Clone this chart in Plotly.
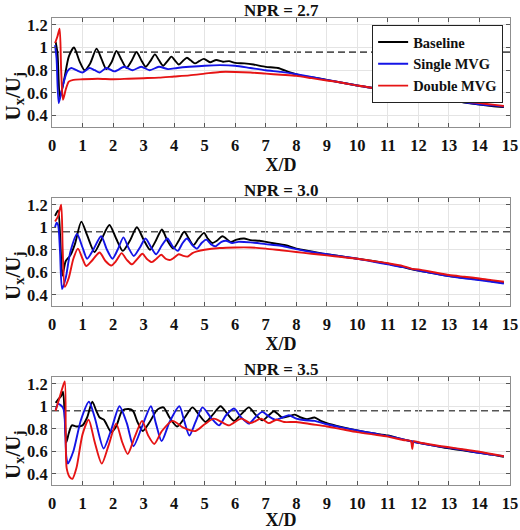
import plotly.graph_objects as go

# ---------------- data ----------------
series_names = ["Baseline", "Single MVG", "Double MVG"]
panel_titles = ["NPR = 2.7", "NPR = 3.0", "NPR = 3.5"]
ref_level = 0.96
x_ticks = list(range(0, 16))
y_ticks = [0.4, 0.6, 0.8, 1.0, 1.2]
y_tick_labels = ["0.4", "0.6", "0.8", "1", "1.2"]

# NPR = 2.7
npr27_base_x = [0.12, 0.18, 0.26, 0.4, 0.55, 0.72, 0.9, 1.07, 1.25, 1.46, 1.62, 1.78, 1.95, 2.11, 2.28, 2.44, 2.6, 2.77, 2.92, 3.07, 3.22, 3.37, 3.5, 3.64, 3.78, 3.91, 4.03, 4.15, 4.28, 4.42, 4.55, 4.68, 4.82, 4.97, 5.08, 5.18, 5.38, 5.6, 5.8, 6.0, 6.3, 6.6, 7.0, 7.4, 7.8, 8.2, 8.6, 9.0, 9.5, 10.0, 10.5, 11.0, 11.5, 11.8, 12.0, 12.5, 13.0, 13.5, 14.0, 14.4, 14.8]
npr27_base_y = [1.05, 0.95, 0.56, 0.72, 0.92, 1.0, 0.88, 0.80, 0.86, 0.99, 0.9, 0.81, 0.87, 0.97, 0.89, 0.82, 0.88, 0.96, 0.89, 0.83, 0.88, 0.94, 0.89, 0.84, 0.88, 0.92, 0.885, 0.85, 0.88, 0.91, 0.885, 0.86, 0.88, 0.90, 0.885, 0.87, 0.89, 0.875, 0.88, 0.865, 0.86, 0.85, 0.83, 0.82, 0.78, 0.75, 0.735, 0.715, 0.69, 0.665, 0.645, 0.62, 0.595, 0.575, 0.57, 0.55, 0.535, 0.515, 0.497, 0.485, 0.476]
npr27_single_x = [0.1, 0.15, 0.22, 0.35, 0.5, 0.63, 0.8, 1.0, 1.23, 1.4, 1.56, 1.78, 2.05, 2.37, 2.64, 2.92, 3.2, 3.5, 3.8, 4.1, 4.5, 5.0, 5.5, 6.0, 6.5, 7.0, 7.5, 8.0, 8.5, 9.0, 9.5, 10.0, 10.5, 11.0, 11.5, 12.0, 12.5, 13.0, 13.5, 14.0, 14.5, 14.8]
npr27_single_y = [1.02, 0.9, 0.51, 0.66, 0.79, 0.82, 0.8, 0.78, 0.82, 0.80, 0.78, 0.82, 0.79, 0.83, 0.80, 0.83, 0.80, 0.83, 0.81, 0.82, 0.83, 0.84, 0.845, 0.84, 0.82, 0.80, 0.785, 0.765, 0.74, 0.715, 0.69, 0.665, 0.645, 0.62, 0.6, 0.575, 0.555, 0.535, 0.518, 0.5, 0.488, 0.48]
npr27_double_x = [0.1, 0.18, 0.25, 0.3, 0.36, 0.45, 0.55, 0.7, 1.0, 1.5, 2.0, 2.5, 3.0, 3.5, 4.0, 4.5, 5.0, 5.5, 6.0, 6.5, 7.0, 7.5, 8.0, 8.5, 9.0, 9.5, 10.0, 10.5, 11.0, 11.5, 12.0, 12.5, 13.0, 13.5, 14.0, 14.5, 14.8]
npr27_double_y = [1.04, 1.1, 1.165, 0.8, 0.54, 0.63, 0.70, 0.715, 0.72, 0.725, 0.72, 0.725, 0.73, 0.735, 0.745, 0.755, 0.77, 0.785, 0.785, 0.78, 0.77, 0.76, 0.75, 0.73, 0.71, 0.69, 0.665, 0.645, 0.625, 0.6, 0.58, 0.56, 0.545, 0.525, 0.51, 0.495, 0.485]

# NPR = 3.0
npr30_base_x = [0.1, 0.2, 0.27, 0.34, 0.45, 0.6, 0.75, 0.96, 1.15, 1.39, 1.6, 1.88, 2.1, 2.32, 2.55, 2.78, 3.0, 3.21, 3.4, 3.6, 3.78, 3.97, 4.15, 4.33, 4.48, 4.63, 4.8, 4.98, 5.1, 5.25, 5.4, 5.58, 5.7, 5.85, 6.05, 6.29, 6.5, 6.8, 7.2, 7.65, 8.0, 8.5, 9.0, 9.5, 10.0, 10.5, 11.0, 11.5, 12.0, 12.5, 13.0, 13.5, 14.0, 14.4, 14.8]
npr30_base_y = [1.1, 1.15, 0.9, 0.57, 0.70, 0.75, 0.85, 1.05, 0.93, 0.78, 0.88, 1.02, 0.9, 0.79, 0.88, 1.0, 0.89, 0.80, 0.88, 0.98, 0.88, 0.81, 0.88, 0.96, 0.9, 0.84, 0.9, 0.95, 0.9, 0.86, 0.88, 0.92, 0.9, 0.87, 0.89, 0.90, 0.885, 0.88, 0.86, 0.84, 0.81, 0.785, 0.76, 0.74, 0.72, 0.70, 0.675, 0.645, 0.615, 0.59, 0.565, 0.55, 0.535, 0.52, 0.505]
npr30_single_x = [0.1, 0.15, 0.2, 0.26, 0.33, 0.45, 0.6, 0.82, 1.0, 1.15, 1.35, 1.61, 1.8, 1.98, 2.15, 2.34, 2.5, 2.68, 2.88, 3.06, 3.25, 3.41, 3.6, 3.78, 3.95, 4.12, 4.28, 4.42, 4.6, 4.75, 4.9, 5.05, 5.2, 5.35, 5.55, 5.7, 5.9, 6.1, 6.5, 7.0, 7.5, 8.0, 8.5, 9.0, 9.5, 10.0, 10.5, 11.0, 11.5, 12.0, 12.5, 13.0, 13.5, 14.0, 14.4, 14.8]
npr30_single_y = [1.0, 1.04, 1.02, 0.8, 0.45, 0.55, 0.78, 0.94, 0.82, 0.72, 0.8, 0.92, 0.8, 0.72, 0.8, 0.91, 0.82, 0.745, 0.82, 0.9, 0.82, 0.76, 0.84, 0.9, 0.83, 0.79, 0.86, 0.90, 0.84, 0.81, 0.86, 0.89, 0.85, 0.83, 0.87, 0.88, 0.86, 0.87, 0.865, 0.85, 0.835, 0.805, 0.78, 0.76, 0.74, 0.72, 0.695, 0.67, 0.645, 0.615, 0.59, 0.565, 0.545, 0.53, 0.515, 0.5]
npr30_double_x = [0.1, 0.2, 0.3, 0.35, 0.42, 0.55, 0.7, 0.85, 1.0, 1.12, 1.3, 1.56, 1.75, 1.94, 2.1, 2.28, 2.45, 2.62, 2.8, 2.96, 3.1, 3.27, 3.42, 3.58, 3.72, 3.88, 4.0, 4.15, 4.3, 4.45, 4.6, 4.75, 5.0, 5.5, 6.0, 6.5, 7.0, 7.5, 8.0, 8.5, 9.0, 9.5, 10.0, 10.5, 11.0, 11.5, 11.8, 12.0, 12.5, 13.0, 13.5, 14.0, 14.4, 14.8]
npr30_double_y = [1.05, 1.1, 1.2, 0.8, 0.47, 0.55, 0.72, 0.81, 0.72, 0.655, 0.7, 0.775, 0.7, 0.66, 0.7, 0.77, 0.71, 0.67, 0.72, 0.765, 0.72, 0.69, 0.72, 0.755, 0.72, 0.71, 0.73, 0.76, 0.745, 0.74, 0.77, 0.785, 0.80, 0.815, 0.82, 0.82, 0.81, 0.795, 0.78, 0.765, 0.75, 0.735, 0.72, 0.70, 0.68, 0.655, 0.63, 0.625, 0.6, 0.575, 0.56, 0.545, 0.53, 0.515]

# NPR = 3.5
npr35_base_x = [0.12, 0.2, 0.3, 0.36, 0.42, 0.47, 0.55, 0.65, 0.8, 1.0, 1.15, 1.32, 1.45, 1.56, 1.7, 1.94, 2.1, 2.3, 2.5, 2.65, 2.8, 2.97, 3.2, 3.45, 3.65, 3.85, 4.1, 4.35, 4.6, 4.8, 5.03, 5.28, 5.52, 5.75, 5.96, 6.2, 6.45, 6.65, 6.89, 7.1, 7.27, 7.4, 7.54, 7.75, 7.95, 8.15, 8.35, 8.6, 8.8, 9.0, 9.5, 10.0, 10.5, 11.0, 11.5, 12.0, 12.5, 13.0, 13.5, 14.0, 14.4, 14.8]
npr35_base_y = [1.03, 1.06, 1.09, 1.13, 0.9, 0.68, 0.76, 0.83, 0.82, 0.83, 0.9, 1.04, 0.96, 0.90, 0.88, 0.77, 0.82, 0.96, 0.975, 0.96, 0.86, 0.78, 0.86, 0.97, 0.99, 0.9, 0.82, 0.9, 0.99, 0.93, 0.86, 0.93, 1.0, 0.93, 0.87, 0.93, 0.99, 0.93, 0.875, 0.92, 0.955, 0.93, 0.90, 0.91, 0.925, 0.9, 0.885, 0.9, 0.87, 0.85, 0.815, 0.785, 0.76, 0.74, 0.705, 0.675, 0.65, 0.625, 0.605, 0.585, 0.57, 0.55]
npr35_single_x = [0.12, 0.2, 0.28, 0.35, 0.4, 0.47, 0.52, 0.7, 0.95, 1.21, 1.4, 1.69, 1.95, 2.21, 2.45, 2.67, 2.95, 3.24, 3.4, 3.59, 3.85, 4.17, 4.33, 4.5, 4.7, 4.93, 5.2, 5.47, 5.7, 5.96, 6.2, 6.45, 6.65, 6.89, 7.1, 7.32, 7.55, 7.76, 8.0, 8.3, 8.6, 9.0, 9.5, 10.0, 10.5, 11.0, 11.5, 12.0, 12.5, 13.0, 13.5, 14.0, 14.4, 14.8]
npr35_single_y = [0.97, 1.02, 1.01, 0.99, 0.95, 0.55, 0.49, 0.6, 0.88, 1.04, 0.9, 0.625, 0.8, 1.0, 0.85, 0.645, 0.82, 1.0, 0.85, 0.69, 0.86, 1.0, 0.87, 0.74, 0.86, 0.99, 0.9, 0.83, 0.92, 0.98, 0.9, 0.845, 0.9, 0.95, 0.91, 0.88, 0.9, 0.92, 0.89, 0.875, 0.87, 0.84, 0.81, 0.785, 0.76, 0.735, 0.705, 0.675, 0.65, 0.63, 0.61, 0.585, 0.57, 0.555]
npr35_double_x = [0.12, 0.25, 0.35, 0.42, 0.45, 0.48, 0.58, 0.67, 0.8, 1.0, 1.2, 1.4, 1.63, 1.85, 2.1, 2.3, 2.48, 2.7, 2.95, 3.15, 3.35, 3.6, 3.95, 4.3, 4.7, 5.0, 5.3, 5.55, 5.8, 6.2, 6.5, 6.85, 7.1, 7.35, 7.6, 8.0, 8.5, 9.0, 9.5, 10.0, 10.5, 11.0, 11.5, 11.75, 11.8, 11.85, 12.0, 12.5, 13.0, 13.5, 14.0, 14.4, 14.8]
npr35_double_y = [0.96, 1.08, 1.17, 1.22, 0.7, 0.45, 0.37, 0.355, 0.45, 0.75, 0.88, 0.68, 0.49, 0.65, 0.845, 0.68, 0.575, 0.72, 0.87, 0.74, 0.665, 0.78, 0.87, 0.81, 0.78, 0.84, 0.89, 0.86, 0.83, 0.89, 0.85, 0.89, 0.85, 0.88, 0.86, 0.86, 0.84, 0.82, 0.795, 0.77, 0.75, 0.73, 0.70, 0.69, 0.62, 0.69, 0.68, 0.655, 0.635, 0.615, 0.595, 0.575, 0.556]

panels = [
    [(npr27_base_x, npr27_base_y), (npr27_single_x, npr27_single_y), (npr27_double_x, npr27_double_y)],
    [(npr30_base_x, npr30_base_y), (npr30_single_x, npr30_single_y), (npr30_double_x, npr30_double_y)],
    [(npr35_base_x, npr35_base_y), (npr35_single_x, npr35_single_y), (npr35_double_x, npr35_double_y)],
]

# ---------------- styling ----------------
colors = ["#000000", "#1414e6", "#e61414"]
FONT = "Liberation Serif"
domains = [[0.7666, 1.0], [0.3833, 0.6146], [0.0, 0.2313]]

fig = go.Figure()
for p, series in enumerate(panels):
    ax = "" if p == 0 else str(p + 1)
    for s, (xs, ys) in enumerate(series):
        fig.add_trace(go.Scatter(
            x=xs, y=ys, mode="lines",
            line=dict(color=colors[s], width=1.9, shape="spline", smoothing=0.7),
            name=series_names[s], showlegend=(p == 0),
            xaxis="x" + ax, yaxis="y" + ax,
        ))
    # reference dashed level
    fig.add_shape(type="line", xref="x" + ax + " domain", yref="y" + ax,
                  x0=0, x1=1, y0=ref_level, y1=ref_level,
                  line=dict(color="#555555", width=1.7, dash="7px,4px"), layer="below")
    # panel title
    fig.add_annotation(text="<b>" + panel_titles[p] + "</b>", xref="paper", yref="paper",
                       x=0.5, y=domains[p][1], yshift=-4, yanchor="bottom", showarrow=False,
                       font=dict(family=FONT, size=17, color="#111"))
    # y-axis title
    fig.add_annotation(text="<b>U<sub>x</sub>/U<sub>j</sub></b>", textangle=-90,
                       xref="paper", yref="paper", x=0, xshift=-38,
                       y=(domains[p][0] + domains[p][1]) / 2, yshift=-24,
                       xanchor="center", yanchor="middle", showarrow=False,
                       font=dict(family=FONT, size=21, color="#111"))

axis_common = dict(
    showline=True, linecolor="#8f8f8f", linewidth=1, mirror="ticks",
    ticks="inside", ticklen=4, tickcolor="#555",
    showgrid=True, gridcolor="#e4e4e4", gridwidth=1, zeroline=False,
    automargin=False,
    tickfont=dict(family=FONT, size=16.5, color="#111", weight="bold"),
)
layout = dict(
    width=520, height=530,
    margin=dict(l=52, r=10, t=18, b=45),
    paper_bgcolor="white", plot_bgcolor="white",
    showlegend=True,
    legend=dict(x=0.985, y=0.985, xanchor="right", yanchor="top",
                bgcolor="white", bordercolor="#222", borderwidth=1,
                font=dict(family=FONT, size=14.5, color="#111", weight="bold"),
                itemwidth=30, tracegroupgap=0),
)
for p in range(3):
    k = "" if p == 0 else str(p + 1)
    layout["xaxis" + k] = dict(axis_common, domain=[0, 1], range=[0, 15], tickvals=x_ticks,
                               anchor="y" + k, ticklabelstandoff=3,
                               title=dict(text="<b>X/D</b>", standoff=0,
                                          font=dict(family=FONT, size=18, color="#111")))
    layout["yaxis" + k] = dict(axis_common, domain=domains[p], range=[0.3, 1.26],
                               tickvals=y_ticks, ticktext=y_tick_labels, anchor="x" + k)
fig.update_layout(**layout)
fig.write_html("out.html")
